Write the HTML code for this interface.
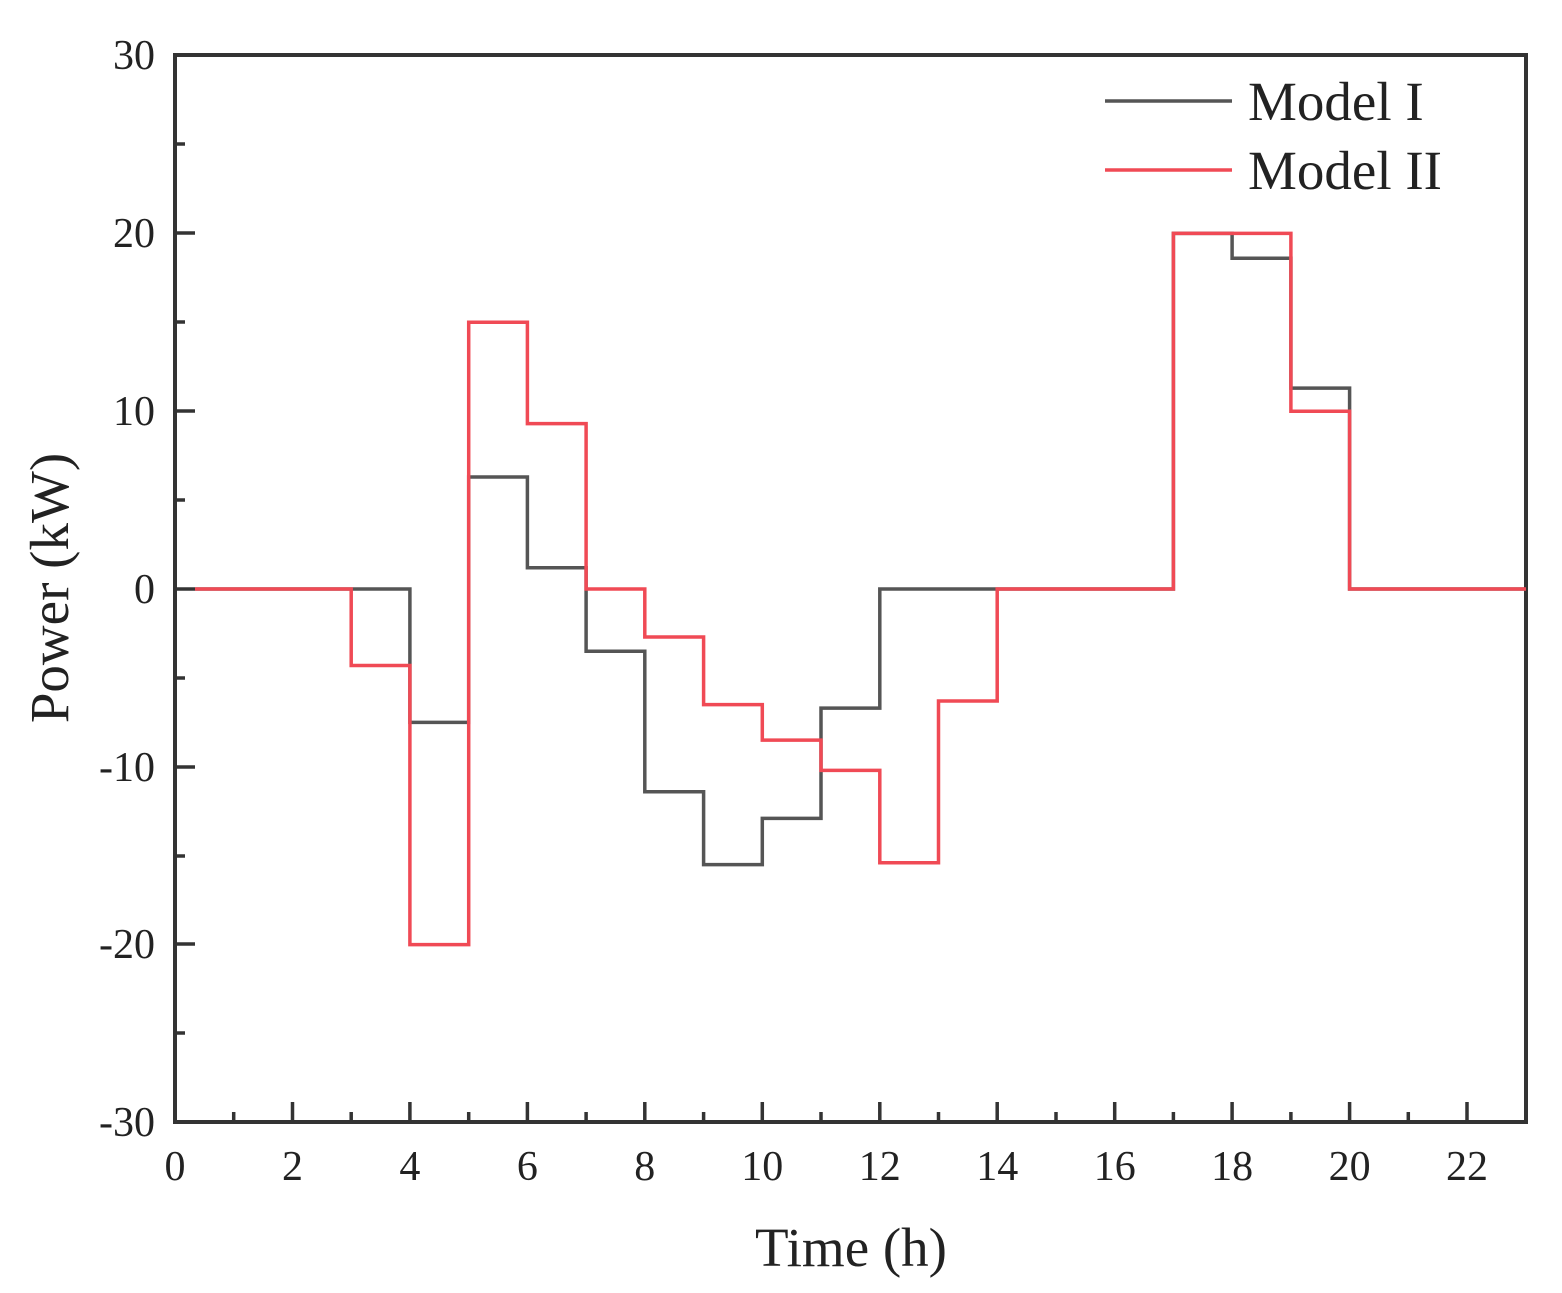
<!DOCTYPE html>
<html><head><meta charset="utf-8"><style>
html,body{margin:0;padding:0;background:#fff;}
svg{display:block;}
text{font-family:"Liberation Serif",serif;fill:#222;}
</style></head><body>
<svg width="1562" height="1293" viewBox="0 0 1562 1293" xmlns="http://www.w3.org/2000/svg">
<rect x="175" y="55" width="1351" height="1067" fill="none" stroke="#333" stroke-width="4"/>
<g stroke="#333" stroke-width="3.5">
<path d="M233.7 1122v-10M351.2 1122v-10M468.7 1122v-10M586.1 1122v-10M703.6 1122v-10M821 1122v-10M938.5 1122v-10M1056 1122v-10M1173.4 1122v-10M1290.9 1122v-10M1408.3 1122v-10
M292.5 1122v-20M409.9 1122v-20M527.4 1122v-20M644.8 1122v-20M762.3 1122v-20M879.8 1122v-20M997.2 1122v-20M1114.7 1122v-20M1232.1 1122v-20M1349.6 1122v-20M1467 1122v-20"/>
<path d="M175 144h10M175 322h10M175 500h10M175 678h10M175 856h10M175 1033h10
M175 233h20M175 411h20M175 589h20M175 767h20M175 944h20"/>
</g>
<g font-size="42" text-anchor="middle">
<text x="175" y="1180">0</text><text x="292.5" y="1180">2</text><text x="409.9" y="1180">4</text><text x="527.4" y="1180">6</text><text x="644.8" y="1180">8</text><text x="762.3" y="1180">10</text><text x="879.8" y="1180">12</text><text x="997.2" y="1180">14</text><text x="1114.7" y="1180">16</text><text x="1232.1" y="1180">18</text><text x="1349.6" y="1180">20</text><text x="1467" y="1180">22</text>
</g>
<g font-size="42" text-anchor="end">
<text x="155" y="69">30</text><text x="155" y="247">20</text><text x="155" y="425">10</text><text x="155" y="603">0</text><text x="155" y="781">-10</text><text x="155" y="958">-20</text><text x="155" y="1136">-30</text>
</g>
<text x="851" y="1266" font-size="55" text-anchor="middle">Time (h)</text>
<text transform="translate(68,588) rotate(-90)" font-size="55" text-anchor="middle">Power (kW)</text>
<path fill="none" stroke="#555" stroke-width="3.5" d="M195 589H409.9V722.4H468.7V477H527.4V567.7H586.1V651.2H644.8V791.7H703.6V864.6H762.3V818.4H821V708.1H879.8V589H1173.4V233.4H1232.1V258.3H1290.9V388.1H1349.6V589H1526"/>
<path fill="none" stroke="#f04a55" stroke-width="3.5" d="M195 589H351.2V665.5H409.9V944.6H468.7V322.3H527.4V423.6H586.1V589H644.8V637H703.6V704.6H762.3V740.1H821V770.4H879.8V862.8H938.5V701H997.2V589H1173.4V233.4H1290.9V411.2H1349.6V589H1526"/>
<line x1="1105" y1="101" x2="1232" y2="101" stroke="#555" stroke-width="3.5"/>
<line x1="1105" y1="170" x2="1232" y2="170" stroke="#f04a55" stroke-width="3.5"/>
<text x="1248" y="120" font-size="55">Model I</text>
<text x="1248" y="189" font-size="55">Model II</text>
</svg>
</body></html>
